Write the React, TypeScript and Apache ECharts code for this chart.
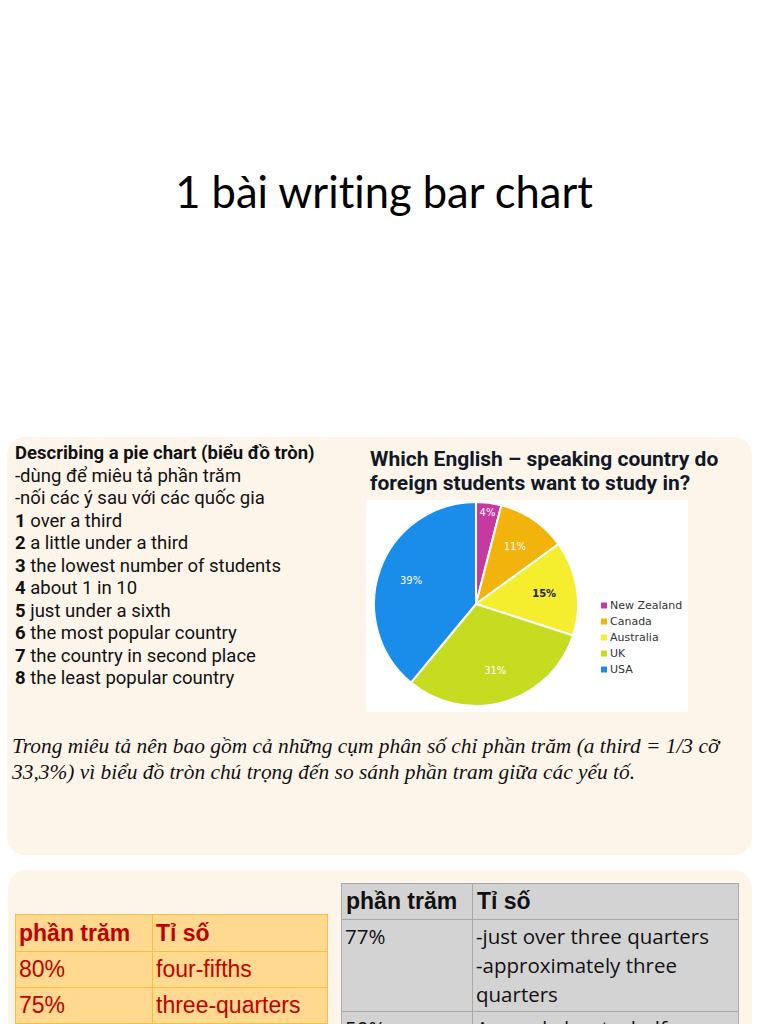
import React, { useEffect, useRef } from "react";
import * as echarts from "echarts";

const countries = ["New Zealand", "Canada", "Australia", "UK", "USA"];
const shares = [4, 11, 15, 31, 39];
const sliceColors = ["#c63aa0", "#f2b30c", "#f5ee2e", "#c5dc21", "#1a8ce9"];
const labelColors = ["#ffffff", "#ffffff", "#222222", "#ffffff", "#ffffff"];

const pieTitle = "Which English – speaking country do\nforeign students want to study in?";

const introLines = [
  { n: "", t: "-dùng để miêu tả phần trăm" },
  { n: "", t: "-nối các ý sau với các quốc gia" },
  { n: "1", t: " over a third" },
  { n: "2", t: " a little under a third" },
  { n: "3", t: " the lowest number of students" },
  { n: "4", t: " about 1 in 10" },
  { n: "5", t: " just under a sixth" },
  { n: "6", t: " the most popular country" },
  { n: "7", t: " the country in second place" },
  { n: "8", t: " the least popular country" },
];

const leftTable = [
  ["phần trăm", "Tỉ số"],
  ["80%", "four-fifths"],
  ["75%", "three-quarters"],
];

const rightTable = [
  ["phần trăm", "Tỉ số"],
  ["77%", "-just over three quarters\n-approximately three\nquarters"],
  ["50%", "Around about a half"],
];

function PieChart() {
  const ref = useRef<HTMLDivElement>(null);
  useEffect(() => {
    if (!ref.current) return;
    const chart = echarts.init(ref.current, null, { renderer: "svg" });
    const center = [116, 164];
    const labelSeries = (r0: number, only: (i: number) => boolean) => ({
      type: "pie",
      center,
      radius: [r0, 102],
      startAngle: 90,
      clockwise: true,
      silent: true,
      legendHoverLink: false,
      itemStyle: { color: "rgba(0,0,0,0)", borderWidth: 0 },
      emphasis: { disabled: true },
      tooltip: { show: false },
      labelLine: { show: false },
      label: {
        show: true,
        position: "inside",
        fontFamily: "DejaVu Sans",
        fontSize: 10,
        formatter: "{c}%",
      },
      data: countries.map((c, i) => ({
        name: c + " label",
        value: shares[i],
        label: {
          show: only(i),
          color: labelColors[i],
          fontWeight: i === 2 ? "bold" : "normal",
        },
      })),
    });
    chart.setOption({
      animation: false,
      title: {
        text: pieTitle,
        left: 10,
        top: 7,
        padding: 0,
        textStyle: {
          fontFamily: "Roboto",
          fontSize: 21,
          fontWeight: "bold",
          color: "#111827",
          lineHeight: 24,
        },
      },
      graphic: [
        {
          type: "rect",
          shape: { x: 6, y: 60, width: 322, height: 212 },
          style: { fill: "#ffffff" },
          z: -1,
        },
      ],
      legend: {
        orient: "vertical",
        left: 234,
        top: 155,
        itemWidth: 8,
        itemHeight: 8,
        itemGap: 5,
        icon: "rect",
        textStyle: { fontFamily: "DejaVu Sans", fontSize: 11, color: "#333", padding: [0, 0, 0, -3] },
        data: countries,
      },
      series: [
        {
          type: "pie",
          center,
          radius: [0, 102],
          startAngle: 90,
          clockwise: true,
          itemStyle: { borderColor: "#ffffff", borderWidth: 2 },
          label: { show: false },
          labelLine: { show: false },
          data: countries.map((c, i) => ({
            name: c,
            value: shares[i],
            itemStyle: { color: sliceColors[i] },
          })),
        },
        labelSeries(30, (i) => i !== 0),
        labelSeries(76, (i) => i === 0),
      ],
    });
    return () => chart.dispose();
  }, []);
  return (
    <div
      ref={ref}
      style={{ position: "absolute", left: 360, top: 440, width: 392, height: 275 }}
    />
  );
}

export default function App() {
  const cream = "#fdf5ea";
  return (
    <div
      style={{
        position: "fixed",
        left: 0,
        top: 0,
        width: 768,
        height: 1024,
        overflow: "hidden",
        background: "#ffffff",
      }}
    >
      <div
        style={{
          position: "absolute",
          left: 0,
          width: 768,
          top: 164,
          textAlign: "center",
          fontFamily: "Lato",
          fontSize: 43.5,
          color: "#000",
          lineHeight: "54px",
          fontVariantLigatures: "none",
        }}
      >
        1 bài writing bar chart
      </div>

      <div
        style={{
          position: "absolute",
          left: 7,
          top: 437,
          width: 745,
          height: 418,
          background: cream,
          borderRadius: 18,
        }}
      />
      <div
        style={{
          position: "absolute",
          left: 8,
          top: 870,
          width: 744,
          height: 200,
          background: cream,
          borderRadius: 18,
        }}
      />

      <div
        style={{
          position: "absolute",
          left: 15,
          top: 442,
          fontFamily: "Roboto",
          fontSize: 18.5,
          lineHeight: "22.5px",
          color: "#111",
          whiteSpace: "pre",
        }}
      >
        <div style={{ fontWeight: "bold" }}>Describing a pie chart (biểu đồ tròn)</div>
        {introLines.map((l, i) => (
          <div key={i}>
            {l.n ? <b>{l.n}</b> : null}
            {l.t}
          </div>
        ))}
      </div>

      <PieChart />

      <div
        style={{
          position: "absolute",
          left: 12,
          top: 733,
          width: 745,
          fontFamily: "Liberation Serif",
          fontStyle: "italic",
          fontSize: 21.4,
          lineHeight: "26px",
          color: "#111",
          whiteSpace: "nowrap",
        }}
      >
        Trong miêu tả nên bao gồm cả những cụm phân số chỉ phần trăm (a third = 1/3 cỡ
        <br />
        33,3%) vì biểu đồ tròn chú trọng đến so sánh phần tram giữa các yếu tố.
      </div>

      <table
        style={{
          position: "absolute",
          left: 15,
          top: 914,
          width: 313,
          borderCollapse: "collapse",
          background: "#fed98f",
          color: "#c00000",
          fontFamily: "Liberation Sans",
          fontSize: 23,
          tableLayout: "fixed",
        }}
      >
        <tbody>
          {leftTable.map((r, i) => (
            <tr key={i} style={{ height: i === 0 ? 37 : 36 }}>
              {r.map((c, j) => (
                <td
                  key={j}
                  style={{
                    border: "1.5px solid #f5c042",
                    padding: "0 3px",
                    width: j === 0 ? 130 : undefined,
                    fontWeight: i === 0 ? "bold" : "normal",
                    whiteSpace: "nowrap",
                  }}
                >
                  {c}
                </td>
              ))}
            </tr>
          ))}
        </tbody>
      </table>

      <table
        style={{
          position: "absolute",
          left: 341,
          top: 883,
          width: 398,
          borderCollapse: "collapse",
          background: "#d3d3d3",
          color: "#111",
          fontFamily: "Open Sans",
          tableLayout: "fixed",
        }}
      >
        <tbody>
          {rightTable.map((r, i) => (
            <tr key={i}>
              {r.map((c, j) => (
                <td
                  key={j}
                  style={{
                    border: "1.5px solid #a9a9a9",
                    padding: i === 0 ? "1px 3px 1px 4px" : "2px 3px 2px 3px",
                    verticalAlign: "top",
                    whiteSpace: "pre",
                    lineHeight: i === 0 ? "33px" : "29px",
                    width: j === 0 ? 123 : undefined,
                    fontFamily: i === 0 ? "Liberation Sans" : "Open Sans",
                    fontWeight: i === 0 ? "bold" : "normal",
                    fontSize: i === 0 ? 23 : 20.5,
                  }}
                >
                  {c}
                </td>
              ))}
            </tr>
          ))}
        </tbody>
      </table>
    </div>
  );
}
